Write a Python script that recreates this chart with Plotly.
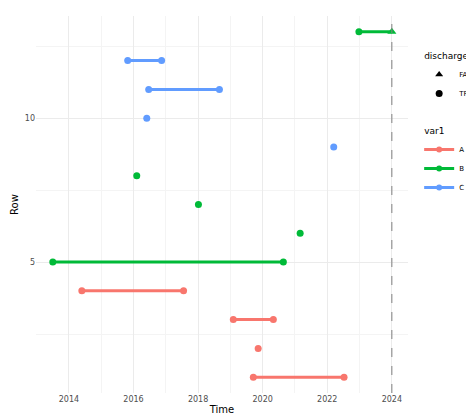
import plotly.graph_objects as go

rows = [1, 2, 3, 4, 5, 6, 7, 8, 9, 10, 11, 12, 13]
var1 = ["A", "A", "A", "A", "B", "B", "B", "B", "C", "C", "C", "C", "B"]
start = [2019.71, 2019.86, 2019.09, 2014.40, 2013.50, 2021.16, 2018.01, 2016.10,
         2022.20, 2016.41, 2016.47, 2015.82, 2022.98]
end = [2022.52, None, 2020.33, 2017.55, 2020.64, None, None, None,
       None, None, 2018.66, 2016.87, 2024.00]
discharged = [True] * 12 + [False]
colors = {"A": "#F8766D", "B": "#00BA38", "C": "#619CFF"}
cutoff = 2024

fig = go.Figure()
for r, v, s, e, d in zip(rows, var1, start, end, discharged):
    c = colors[v]
    if e is not None:
        fig.add_trace(go.Scatter(x=[s, e], y=[r, r], mode="lines",
                                 line=dict(color=c, width=3), showlegend=False, hoverinfo="skip"))
    fig.add_trace(go.Scatter(x=[s], y=[r], mode="markers",
                             marker=dict(color=c, size=7), showlegend=False))
    if e is not None:
        fig.add_trace(go.Scatter(x=[e], y=[r], mode="markers",
                                 marker=dict(color=c, size=7 if d else 8,
                                             symbol="circle" if d else "triangle-up"),
                                 showlegend=False))

# legend entries
for lab, sym in [("FALSE", "triangle-up"), ("TRUE", "circle")]:
    fig.add_trace(go.Scatter(x=[None], y=[None], mode="markers", name=lab,
                             marker=dict(color="black", size=7, symbol=sym),
                             legendgroup="d", legendgrouptitle_text="discharged"))
for lab in ["A", "B", "C"]:
    fig.add_trace(go.Scatter(x=[None], y=[None], mode="lines+markers", name=lab,
                             line=dict(color=colors[lab], width=3),
                             marker=dict(color=colors[lab], size=6),
                             legendgroup="v", legendgrouptitle_text="var1"))

fig.add_vline(x=cutoff, line=dict(color="gray", width=1, dash="dash"))

grid = "#EBEBEB"
fig.update_layout(
    width=474, height=414, plot_bgcolor="white", paper_bgcolor="white",
    margin=dict(l=28, r=74, t=8, b=29, autoexpand=False),
    font=dict(family="DejaVu Sans", size=8, color="#4D4D4D"),
    legend=dict(x=1.03, y=0.72, yanchor="middle", tracegroupgap=18, itemwidth=30,
                font=dict(size=7, color="black"), grouptitlefont=dict(size=9, color="black")),
    xaxis=dict(range=[2012.98, 2024.5], tick0=2014, dtick=2, showgrid=True, gridcolor=grid,
               gridwidth=1, zeroline=False, ticks="", automargin=False,
               minor=dict(dtick=1, tick0=2013, showgrid=True, gridcolor="#F4F4F4"),
               title=dict(text="Time", font=dict(size=10, color="black"), standoff=2)),
    yaxis=dict(range=[0.45, 13.55], tickvals=[5, 10], showgrid=True, gridcolor=grid,
               zeroline=False, ticks="", automargin=False,
               minor=dict(tickvals=[2.5, 7.5, 12.5], showgrid=True, gridcolor="#F4F4F4"),
               title=dict(text="Row", font=dict(size=10, color="black"), standoff=4)),
)
fig.write_html("out.html")
